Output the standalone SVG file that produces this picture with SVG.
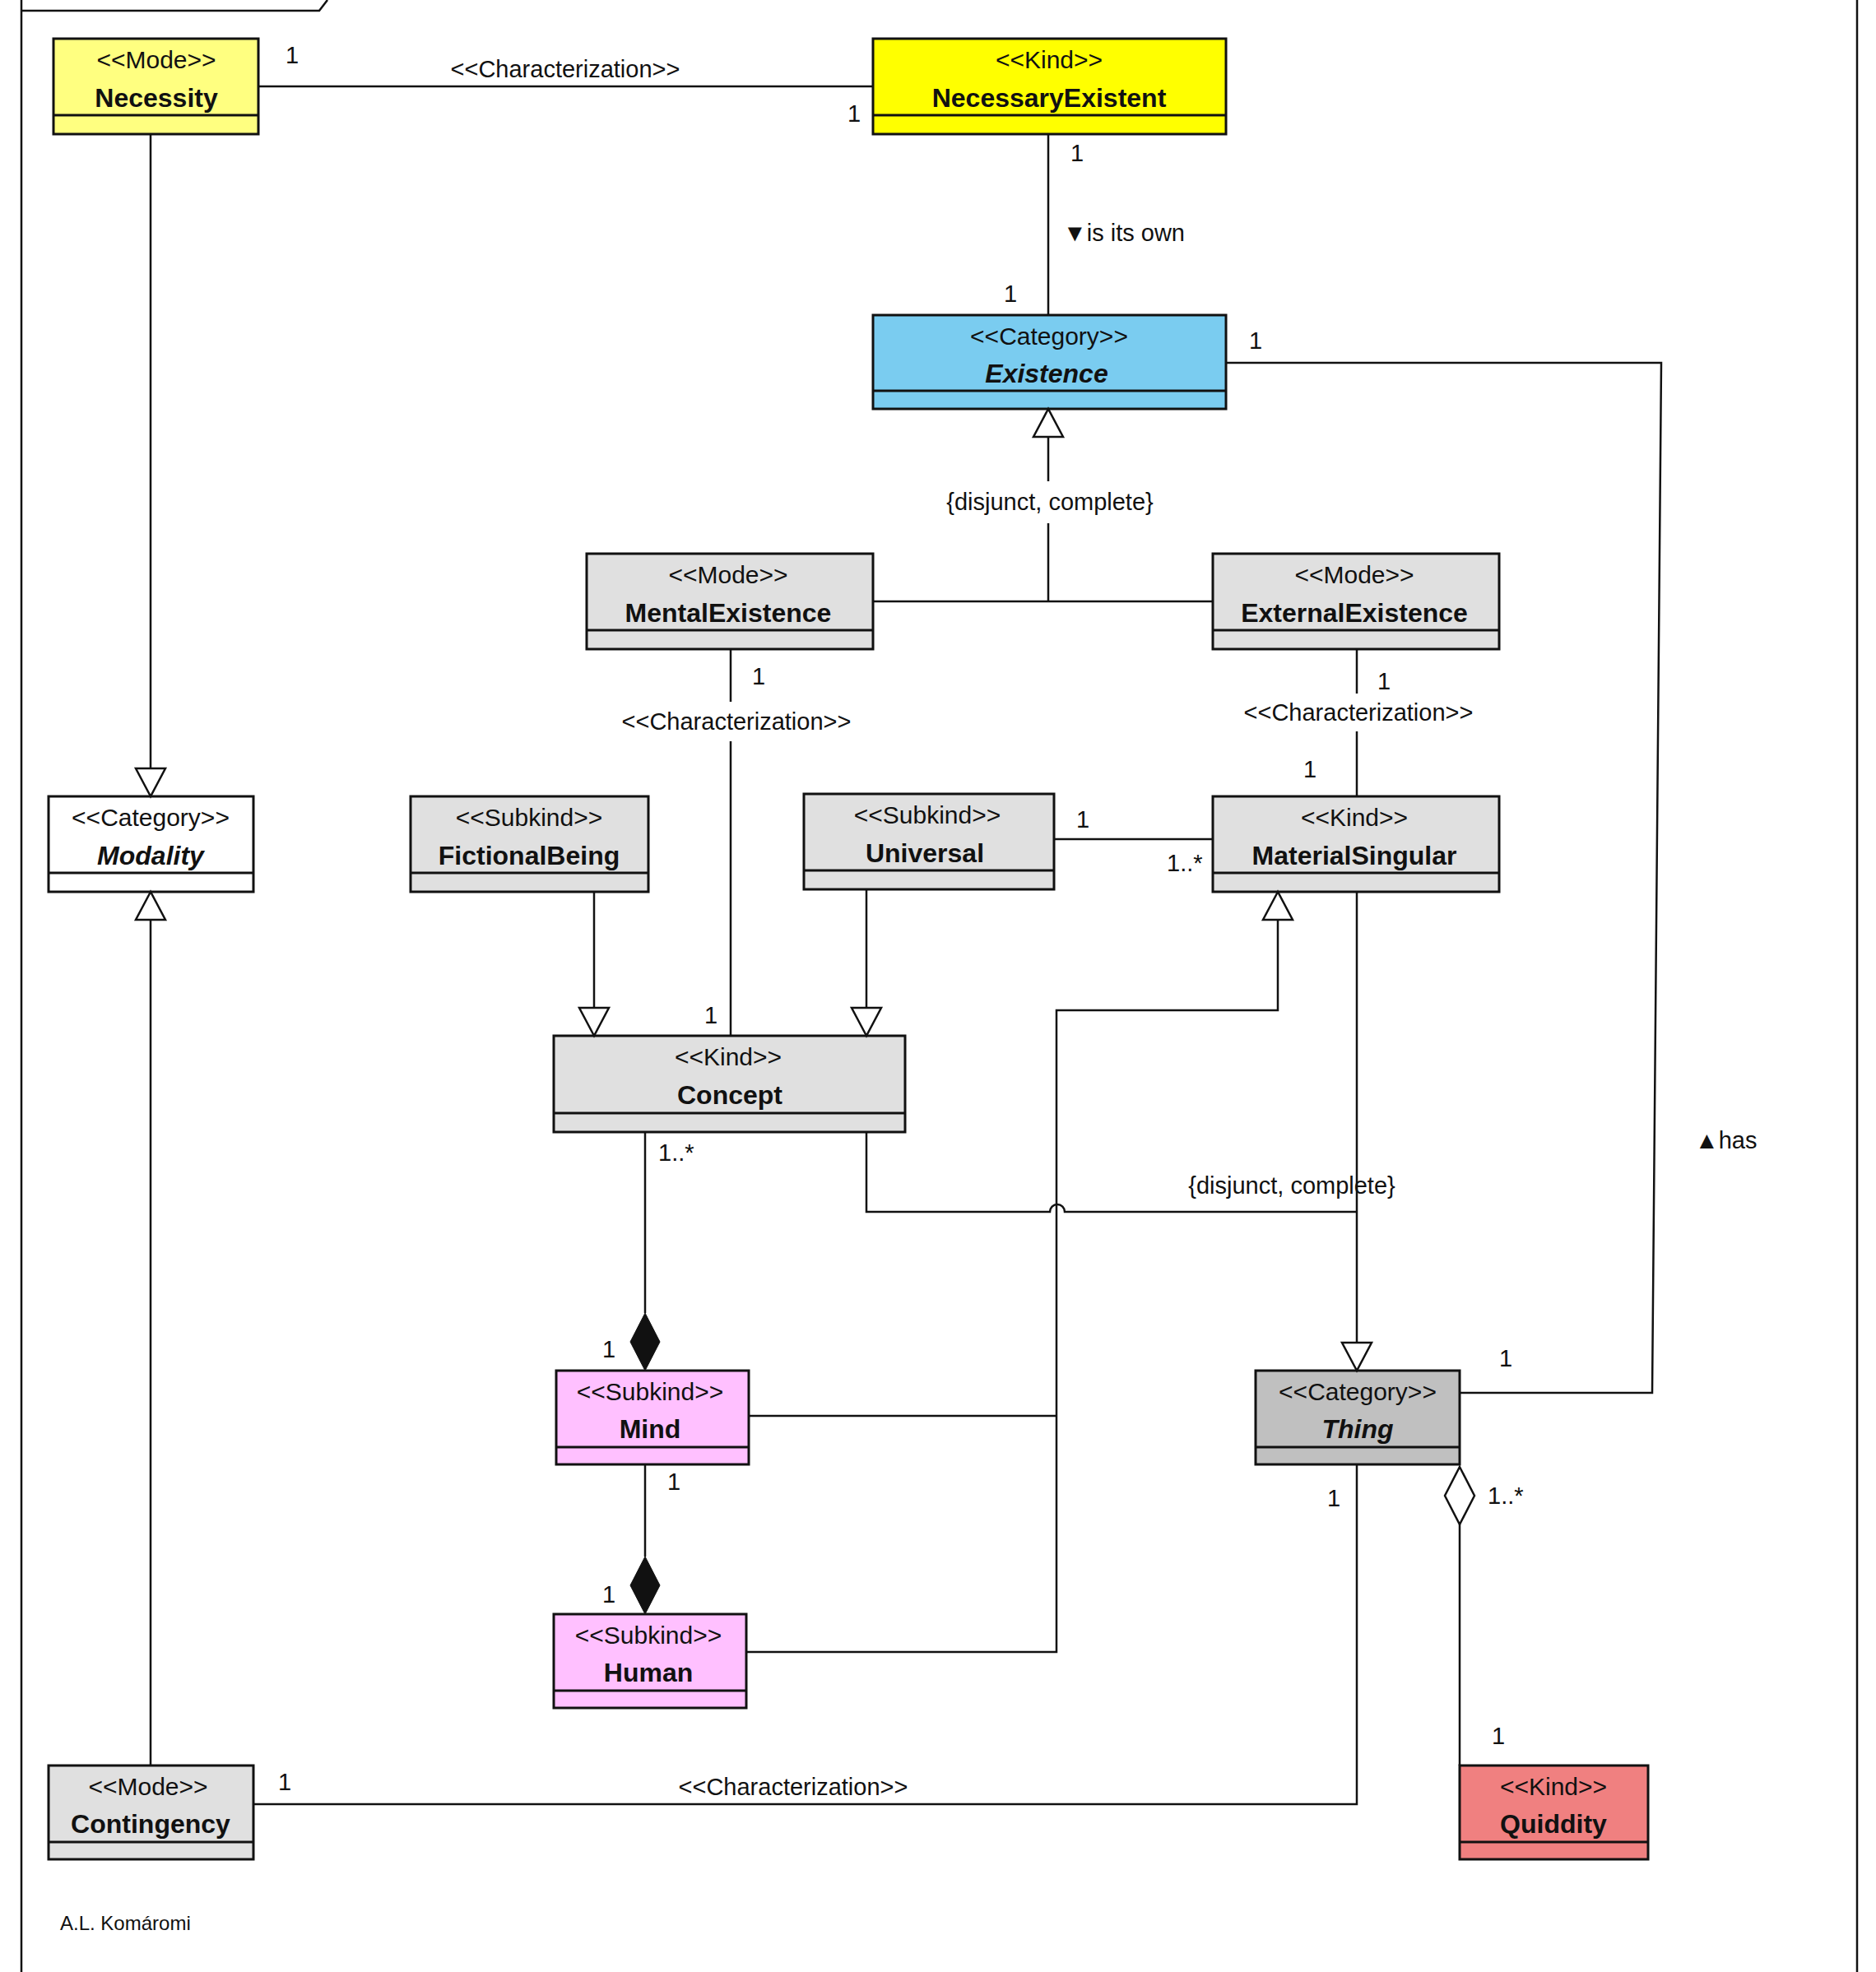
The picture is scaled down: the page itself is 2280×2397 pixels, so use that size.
<svg xmlns="http://www.w3.org/2000/svg" width="2280" height="2397" viewBox="0 0 2280 2397">
<style>
.b{stroke:#111;stroke-width:3}
.st{font-family:"Liberation Sans",Arial,sans-serif;font-size:30px;text-anchor:middle;fill:#111}
.nm{font-family:"Liberation Sans",Arial,sans-serif;font-size:32px;font-weight:bold;text-anchor:middle;fill:#111}
.it{font-style:italic}
.l{font-family:"Liberation Sans",Arial,sans-serif;font-size:29px;fill:#111;dominant-baseline:central}
.c{text-anchor:middle}
.ln{fill:none;stroke:#111;stroke-width:2.5}
.tri{fill:#fff;stroke:#111;stroke-width:2.5}
</style>
<rect width="2280" height="2397" fill="#fff"/>
<path class="ln" d="M26,0 V2397 M2257,0 V2397 M26,13 H388 L398,0"/>
<g id="Necessity"><rect class="b" x="65" y="47" width="249" height="116" fill="#ffff80"/><line class="b" x1="65" y1="140" x2="314" y2="140"/><text class="st" x="190" y="83">&lt;&lt;Mode&gt;&gt;</text><text class="nm" x="190" y="130">Necessity</text></g>
<g id="NecessaryExistent"><rect class="b" x="1061" y="47" width="429" height="116" fill="#ffff00"/><line class="b" x1="1061" y1="140" x2="1490" y2="140"/><text class="st" x="1275" y="83">&lt;&lt;Kind&gt;&gt;</text><text class="nm" x="1275" y="130">NecessaryExistent</text></g>
<g id="Existence"><rect class="b" x="1061" y="383" width="429" height="114" fill="#7accf0"/><line class="b" x1="1061" y1="475" x2="1490" y2="475"/><text class="st" x="1275" y="419">&lt;&lt;Category&gt;&gt;</text><text class="nm it" x="1272" y="465">Existence</text></g>
<g id="MentalExistence"><rect class="b" x="713" y="673" width="348" height="116" fill="#e0e0e0"/><line class="b" x1="713" y1="766" x2="1061" y2="766"/><text class="st" x="885" y="709">&lt;&lt;Mode&gt;&gt;</text><text class="nm" x="885" y="756">MentalExistence</text></g>
<g id="ExternalExistence"><rect class="b" x="1474" y="673" width="348" height="116" fill="#e0e0e0"/><line class="b" x1="1474" y1="766" x2="1822" y2="766"/><text class="st" x="1646" y="709">&lt;&lt;Mode&gt;&gt;</text><text class="nm" x="1646" y="756">ExternalExistence</text></g>
<g id="Modality"><rect class="b" x="59" y="968" width="249" height="116" fill="#fff"/><line class="b" x1="59" y1="1061" x2="308" y2="1061"/><text class="st" x="183" y="1004">&lt;&lt;Category&gt;&gt;</text><text class="nm it" x="183" y="1051">Modality</text></g>
<g id="FictionalBeing"><rect class="b" x="499" y="968" width="289" height="116" fill="#e0e0e0"/><line class="b" x1="499" y1="1061" x2="788" y2="1061"/><text class="st" x="643" y="1004">&lt;&lt;Subkind&gt;&gt;</text><text class="nm" x="643" y="1051">FictionalBeing</text></g>
<g id="Universal"><rect class="b" x="977" y="965" width="304" height="116" fill="#e0e0e0"/><line class="b" x1="977" y1="1058" x2="1281" y2="1058"/><text class="st" x="1127" y="1001">&lt;&lt;Subkind&gt;&gt;</text><text class="nm" x="1124" y="1048">Universal</text></g>
<g id="MaterialSingular"><rect class="b" x="1474" y="968" width="348" height="116" fill="#e0e0e0"/><line class="b" x1="1474" y1="1061" x2="1822" y2="1061"/><text class="st" x="1646" y="1004">&lt;&lt;Kind&gt;&gt;</text><text class="nm" x="1646" y="1051">MaterialSingular</text></g>
<g id="Concept"><rect class="b" x="673" y="1259" width="427" height="117" fill="#e0e0e0"/><line class="b" x1="673" y1="1353" x2="1100" y2="1353"/><text class="st" x="885" y="1295">&lt;&lt;Kind&gt;&gt;</text><text class="nm" x="887" y="1342">Concept</text></g>
<g id="Mind"><rect class="b" x="676" y="1666" width="234" height="114" fill="#ffc0ff"/><line class="b" x1="676" y1="1759" x2="910" y2="1759"/><text class="st" x="790" y="1702">&lt;&lt;Subkind&gt;&gt;</text><text class="nm" x="790" y="1748">Mind</text></g>
<g id="Thing"><rect class="b" x="1526" y="1666" width="248" height="114" fill="#c0c0c0"/><line class="b" x1="1526" y1="1759" x2="1774" y2="1759"/><text class="st" x="1650" y="1702">&lt;&lt;Category&gt;&gt;</text><text class="nm it" x="1650" y="1748">Thing</text></g>
<g id="Human"><rect class="b" x="673" y="1962" width="234" height="114" fill="#ffc0ff"/><line class="b" x1="673" y1="2055" x2="907" y2="2055"/><text class="st" x="788" y="1998">&lt;&lt;Subkind&gt;&gt;</text><text class="nm" x="788" y="2044">Human</text></g>
<g id="Contingency"><rect class="b" x="59" y="2146" width="249" height="114" fill="#e0e0e0"/><line class="b" x1="59" y1="2239" x2="308" y2="2239"/><text class="st" x="180" y="2182">&lt;&lt;Mode&gt;&gt;</text><text class="nm" x="183" y="2228">Contingency</text></g>
<g id="Quiddity"><rect class="b" x="1774" y="2146" width="229" height="114" fill="#f08080"/><line class="b" x1="1774" y1="2239" x2="2003" y2="2239"/><text class="st" x="1888" y="2182">&lt;&lt;Kind&gt;&gt;</text><text class="nm" x="1888" y="2228">Quiddity</text></g>
<g id="connectors">
<path class="ln" d="M314,105 H1061"/>
<path class="ln" d="M1274,163 V383"/>
<path class="ln" d="M1490,441 H2019 L2008,1693 H1774"/>
<path class="ln" d="M1274,531 V585 M1274,636 V731 M1061,731 H1474"/>
<polygon class="tri" points="1274,497 1256,531 1292,531"/>
<path class="ln" d="M183,163 V934"/><polygon class="tri" points="183,968 165,934 201,934"/>
<path class="ln" d="M183,2146 V1118"/><polygon class="tri" points="183,1084 165,1118 201,1118"/>
<path class="ln" d="M888,789 V853 M888,901 V1259"/>
<path class="ln" d="M1649,789 V843 M1649,889 V968"/>
<path class="ln" d="M1281,1020 H1474"/>
<path class="ln" d="M722,1084 V1225"/><polygon class="tri" points="722,1259 704,1225 740,1225"/>
<path class="ln" d="M1053,1081 V1225"/><polygon class="tri" points="1053,1259 1035,1225 1071,1225"/>
<path class="ln" d="M1649,1084 V1632"/><polygon class="tri" points="1649,1666 1631,1632 1667,1632"/>
<path class="ln" d="M1053,1376 V1473 H1276 A9,9 0 0 1 1294,1473 H1649"/>
<path class="ln" d="M907,2008 H1284 V1228 H1553 V1118 M910,1721 H1284"/><polygon class="tri" points="1553,1084 1535,1118 1571,1118"/>
<path class="ln" d="M784,1376 V1596"/><polygon fill="#111" stroke="#111" points="784,1596 802,1631 784,1666 766,1631"/>
<path class="ln" d="M784,1780 V1892"/><polygon fill="#111" stroke="#111" points="784,1892 802,1927 784,1962 766,1927"/>
<path class="ln" d="M1774,1853 V2146"/><polygon class="tri" points="1774,1783 1792,1818 1774,1853 1756,1818"/>
<path class="ln" d="M1649,1780 V2193 H308"/>
</g>
<g id="labels">
<text class="l c" x="687" y="84">&lt;&lt;Characterization&gt;&gt;</text>
<text class="l" x="347" y="67">1</text><text class="l" x="1030" y="138">1</text>
<text class="l" x="1301" y="186">1</text><text class="l" x="1220" y="357">1</text>
<text class="l" x="1292" y="283">▼is its own</text>
<text class="l" x="1518" y="414">1</text><text class="l" x="1822" y="1651">1</text>
<text class="l" x="2060" y="1386">▲has</text>
<text class="l c" x="1276" y="610">{disjunct, complete}</text>
<text class="l" x="914" y="822">1</text><text class="l c" x="895" y="877">&lt;&lt;Characterization&gt;&gt;</text><text class="l" x="856" y="1234">1</text>
<text class="l" x="1674" y="828">1</text><text class="l c" x="1651" y="866">&lt;&lt;Characterization&gt;&gt;</text><text class="l" x="1584" y="935">1</text>
<text class="l" x="1308" y="996">1</text><text class="l" x="1418" y="1049">1..*</text>
<text class="l c" x="1570" y="1441">{disjunct, complete}</text>
<text class="l" x="800" y="1401">1..*</text><text class="l" x="732" y="1640">1</text>
<text class="l" x="811" y="1801">1</text><text class="l" x="732" y="1938">1</text>
<text class="l" x="1808" y="1818">1..*</text><text class="l" x="1813" y="2110">1</text>
<text class="l" x="1613" y="1821">1</text><text class="l" x="338" y="2166">1</text>
<text class="l c" x="964" y="2172">&lt;&lt;Characterization&gt;&gt;</text>
<text class="l" x="73" y="2337" style="font-size:24px">A.L. Komáromi</text>
</g>
</svg>
